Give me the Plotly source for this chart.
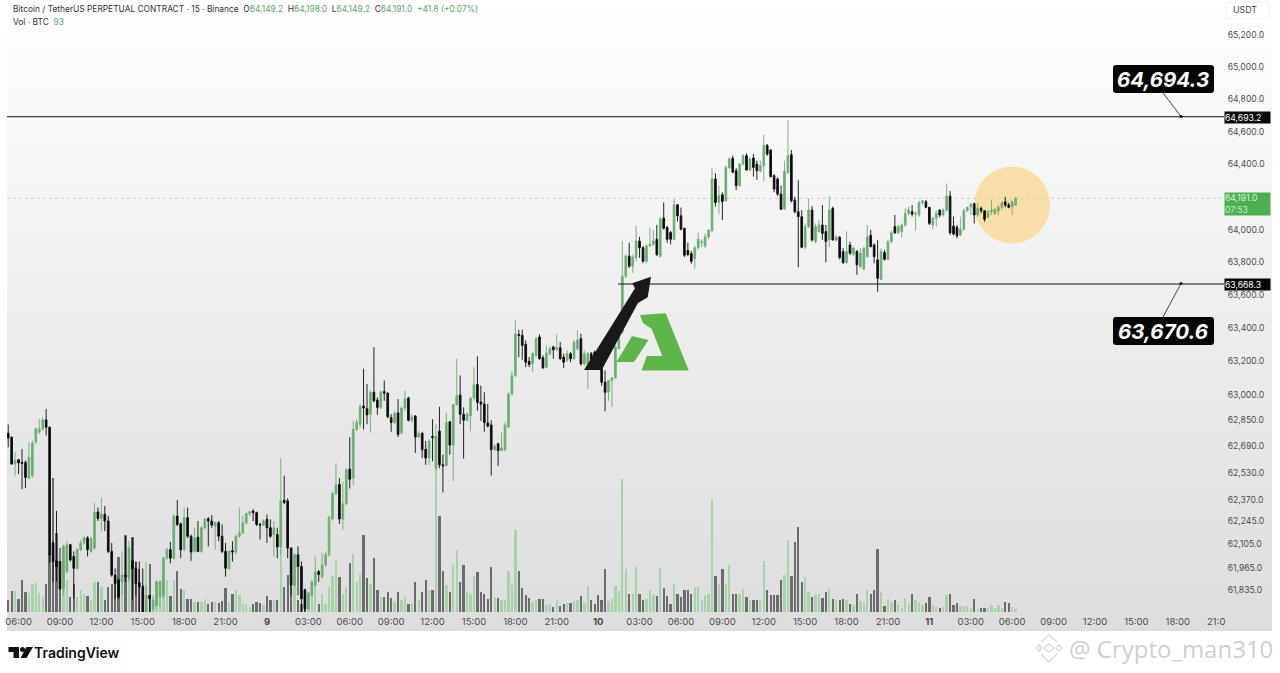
import math
import plotly.graph_objects as go

opens = [62768,62744,62584,62610,62594,62594,62500,62514,62714,62774,
62794,62848,62804,62114,62008,62004,61844,61944,62104,62034,
61964,62074,62114,62144,62064,62084,62298,62260,62284,62244,
62064,61924,61894,61884,61924,61904,62008,61964,61878,61854,
61704,61804,61724,61744,61794,61804,62024,62074,62024,62274,
62228,62074,62264,62154,62064,62148,62064,62204,62258,62244,
62214,62234,62154,62064,61964,62068,62060,62154,62174,62234,
62288,62304,62294,62224,62220,62254,62204,62164,62164,62090,
62368,62364,62084,61864,62044,61974,61834,61724,61804,61864,
61944,61913,61984,62044,62256,62408,62462,62256,62347,62553,
62499,62791,62822,62931,62915,62882,63014,62967,62923,63018,
63008,62862,62832,62890,62771,62919,62979,62846,62872,62745,
62769,62672,62620,62749,62559,62781,62579,62575,62836,62697,
62939,62998,62882,62846,62872,62979,63060,62955,62943,62830,
62818,62670,62705,62664,62670,62806,63004,63115,63363,63357,
63303,63200,63185,63236,63347,63222,63165,63246,63286,63270,
63282,63226,63206,63246,63216,63276,63337,63185,63165,63246,
63256,63206,63155,63074,63014,63084,63101,63276,63377,63715,
63838,63777,63828,63930,63889,63807,63900,63910,63941,63838,
64070,64012,63982,63941,64152,64084,64008,63873,63853,63824,
63889,63920,63900,63955,63992,64310,64166,64213,64176,64381,
64437,64361,64269,64402,64453,64365,64439,64402,64357,64392,
64515,64488,64330,64310,64217,64125,64351,64459,64180,64109,
64079,63892,64018,64119,63927,63988,64028,63988,63937,64130,
63937,63953,63866,63799,63906,63850,63866,63774,63758,63835,
63965,63906,63815,63697,63860,63819,63927,64018,63981,63988,
64028,64099,64109,64095,64089,64164,64170,64136,64028,64069,
64119,64089,64119,64205,64022,64014,63967,64002,64115,64140,
64160,64089,64130,64115,64075,64109,64099,64115,64136,64170,
64150,64140,64149.2]

closes = [62740,62584,62604,62590,62588,62504,62624,62708,62794,62794,
62848,62804,62044,62004,61974,61844,62094,62104,62014,61964,
62074,62114,62144,62074,62140,62294,62260,62284,62244,62064,
61924,61874,61794,61924,61914,62084,61960,61874,61854,61694,
61804,61784,61774,61884,61884,62024,62074,62024,62274,62224,
62074,62264,62154,62060,62144,62064,62204,62254,62244,62220,
62234,62154,62064,61964,62064,62060,62154,62174,62234,62288,
62300,62294,62224,62220,62244,62204,62154,62204,62090,62364,
62354,62084,61864,62044,61974,61784,61724,61814,61884,61944,
61928,61984,62044,62266,62408,62458,62256,62347,62549,62493,
62791,62832,62927,62919,62878,63014,62963,62923,63014,63008,
62866,62832,62886,62761,62919,62973,62846,62866,62745,62765,
62670,62620,62721,62741,62751,62579,62573,62832,62697,62939,
62993,62882,62846,62882,62979,63060,62953,62943,62832,62812,
62670,62690,62664,62680,62818,63004,63115,63367,63357,63296,
63195,63181,63246,63337,63216,63161,63250,63276,63270,63282,
63216,63195,63246,63216,63317,63327,63185,63246,63246,63185,
63185,63165,63074,63014,63084,63101,63286,63377,63715,63838,
63777,63832,63930,63889,63807,63900,63910,63930,63848,64064,
64008,63941,63941,64152,64084,64002,63844,63848,63807,63889,
63941,63926,63955,63996,64310,64166,64207,64172,64381,64433,
64351,64269,64402,64453,64365,64433,64381,64361,64392,64515,
64463,64324,64248,64217,64125,64357,64453,64176,64109,64079,
63892,64018,64119,63937,64018,64028,63977,63927,64119,63937,
63953,63829,63799,63866,63856,63886,63785,63856,63886,63957,
63896,63835,63703,63866,63819,63927,63981,63981,64018,64028,
64099,64119,64095,64099,64164,64176,64136,64038,64069,64099,
64089,64119,64205,63981,63973,63961,64002,64115,64136,64156,
64089,64130,64115,64063,64109,64119,64124,64136,64164,64150,
64136,64170,64191.0]

highs = [62820,62748,62654,62614,62674,62604,62714,62724,62804,62854,
62864,62914,62808,62124,62304,62084,62104,62124,62108,62064,
62084,62134,62154,62154,62148,62354,62324,62384,62334,62274,
62114,61964,61904,62064,62154,62124,62144,62004,62004,61964,
61864,61804,61804,61894,61894,62034,62084,62120,62284,62368,
62234,62324,62324,62164,62204,62244,62214,62264,62268,62280,
62244,62244,62224,62114,62074,62124,62164,62324,62274,62294,
62304,62314,62300,62234,62254,62284,62254,62244,62204,62620,
62514,62380,62088,62054,62094,62004,61844,61824,61894,62034,
61954,62054,62064,62276,62418,62589,62499,62478,62559,62745,
62842,62852,62943,63155,63064,63024,63286,62983,63024,63084,
63014,62882,62903,62973,62927,63024,62987,62882,62876,62781,
62771,62721,62731,62852,62822,62927,62640,62892,62842,62943,
63216,63115,62923,62892,62983,63165,63230,63054,63014,62943,
62846,62701,62711,62771,62832,63014,63141,63448,63391,63391,
63327,63226,63256,63347,63363,63236,63296,63290,63296,63363,
63317,63246,63266,63256,63327,63387,63367,63266,63256,63256,
63266,63226,63155,63145,63088,63105,63296,63387,63930,63848,
63920,63848,64023,63955,63900,63910,64012,63996,64029,64074,
64166,64023,63992,64187,64156,64135,64012,63920,63869,63900,
63982,63941,63976,64002,64381,64345,64269,64228,64392,64443,
64453,64377,64406,64463,64468,64443,64463,64422,64422,64582,
64525,64494,64340,64320,64269,64422,64673,64488,64201,64302,
64119,64038,64191,64144,64038,64059,64150,64028,64205,64140,
63967,63961,63886,63988,63927,63896,63876,63886,63896,64028,
63998,63916,63937,63886,63876,63937,63994,64089,64028,64038,
64130,64140,64150,64109,64176,64180,64180,64140,64079,64119,
64124,64130,64282,64237,64079,64028,64079,64130,64140,64160,
64164,64160,64140,64119,64119,64180,64130,64150,64170,64201,
64164,64180,64198.0]

lows = [62684,62580,62514,62524,62434,62440,62492,62504,62704,62764,
62784,62754,61994,61884,61884,61834,61804,61934,62004,61784,
61954,62064,62104,62034,62054,62074,62244,62184,62184,62054,
61914,61784,61784,61804,61884,61884,61774,61804,61704,61694,
61694,61694,61704,61734,61734,61784,62014,61994,62014,62214,
62024,62064,62144,62008,62054,62060,62054,62194,62094,62204,
62074,62124,62054,61914,61954,62004,62044,62144,62164,62224,
62274,62244,62214,62134,62214,62114,62144,62034,62024,62044,
62344,62024,61804,61854,61804,61704,61704,61714,61794,61854,
61884,61903,61973,62034,62246,62398,62226,62192,62337,62438,
62458,62781,62802,62791,62822,62771,62953,62878,62913,62963,
62858,62777,62822,62745,62761,62903,62838,62832,62650,62741,
62620,62579,62579,62600,62549,62559,62414,62569,62640,62482,
62933,62822,62616,62838,62781,62963,62903,62842,62777,62802,
62515,62660,62573,62660,62660,62798,62993,63105,63226,63210,
63165,63165,63135,63226,63210,63155,63161,63236,63216,63262,
63210,63161,63195,63195,63210,63266,63175,63175,63034,63175,
63175,63155,63054,62899,62963,62927,63094,63276,63367,63705,
63766,63736,63807,63828,63797,63797,63894,63900,63838,63828,
64000,63920,63910,63935,64049,63996,63832,63838,63791,63762,
63879,63894,63889,63941,63988,64140,64094,64058,64172,64371,
64345,64242,64263,64392,64361,64357,64324,64304,64351,64295,
64453,64320,64228,64207,64119,64123,64340,64166,64099,63770,
63886,63880,64008,63927,63916,63981,63937,63801,63892,63933,
63927,63819,63791,63791,63845,63839,63724,63764,63754,63831,
63892,63795,63622,63693,63811,63815,63916,63973,63973,63953,
64018,64089,64079,63994,64079,64150,64130,64028,64002,64018,
64075,64079,64109,63967,63965,63947,63961,63994,64109,64089,
64038,64079,64099,64048,64069,64089,64089,64089,64119,64136,
64130,64089,64149.2]

volumes = [350,630,630,400,950,600,570,830,870,570,
450,830,1750,4010,2370,1100,1450,950,450,850,
450,650,550,470,350,900,900,750,370,750,
850,1050,1650,1050,2300,1950,2250,1500,1300,800,
1500,1430,450,900,900,1050,970,470,970,1220,
690,650,400,400,300,300,300,400,250,300,
300,270,330,710,300,550,650,500,230,200,
150,230,300,270,200,470,350,350,350,1900,
750,1100,1650,950,350,250,700,600,450,750,
250,530,250,750,1070,1530,1050,530,750,1470,
1730,900,1130,2320,1030,830,1620,650,450,450,
600,430,300,600,370,450,230,270,900,370,
600,950,650,670,4450,2880,1230,800,600,1400,
1850,900,1400,600,550,1070,1200,600,550,400,
1350,450,430,350,350,1230,800,2450,1230,730,
500,430,300,370,400,400,200,230,150,370,
170,230,270,270,330,370,470,270,770,350,
250,500,350,1300,330,400,770,630,4000,1300,
550,530,1350,550,350,400,650,500,470,1320,
720,470,250,830,530,450,650,670,550,750,
750,350,500,530,3380,1070,830,1300,830,1400,
530,550,550,680,450,370,350,350,370,1520,
650,500,500,500,950,1100,2170,1070,2100,2550,
900,1050,600,450,500,530,430,590,700,400,
370,370,390,370,250,200,550,330,270,670,
530,650,1900,600,170,400,300,350,200,130,
430,250,550,350,300,200,270,450,200,150,
130,150,520,550,200,270,170,170,170,130,
380,100,130,130,130,200,130,200,130,300,
270,150,93]

time_tick_index = list(range(3, 352, 12))
time_tick_labels = ["06:00","09:00","12:00","15:00","18:00","21:00","<b>9</b>",
                    "03:00","06:00","09:00","12:00","15:00","18:00","21:00","<b>10</b>",
                    "03:00","06:00","09:00","12:00","15:00","18:00","21:00","<b>11</b>",
                    "03:00","06:00","09:00","12:00","15:00","18:00","21:00"]
price_ticks = [65200,65000,64800,64600,64400,64000,63800,63600,63400,63200,63000,
               62850,62690,62530,62370,62245,62105,61965,61835]
resistance = 64693.2
support = 63668.3
last_price = 64191.0

W, H = 1280, 673
def px(x): return x / W
def py(y): return 1 - y / H
def poly(points):
    return "M " + " L ".join(f"{px(x):.5f},{py(y):.5f}" for x, y in points) + " Z"
def round_rect(x0, y0, x1, y1, r):
    return (f"M {px(x0+r):.5f},{py(y0):.5f} L {px(x1-r):.5f},{py(y0):.5f} "
            f"Q {px(x1):.5f},{py(y0):.5f} {px(x1):.5f},{py(y0+r):.5f} "
            f"L {px(x1):.5f},{py(y1-r):.5f} Q {px(x1):.5f},{py(y1):.5f} {px(x1-r):.5f},{py(y1):.5f} "
            f"L {px(x0+r):.5f},{py(y1):.5f} Q {px(x0):.5f},{py(y1):.5f} {px(x0):.5f},{py(y1-r):.5f} "
            f"L {px(x0):.5f},{py(y0+r):.5f} Q {px(x0):.5f},{py(y0):.5f} {px(x0+r):.5f},{py(y0):.5f} Z")

UP = "#6bad74"
DOWN = "#0b0b0b"
VOL_UP = "#a8d3aa"
VOL_DOWN = "#6c6c6c"
indices = list(range(len(closes)))
vol_colors = [VOL_UP if c >= o else VOL_DOWN for o, c in zip(opens, closes)]

fig = go.Figure()
fig.add_trace(go.Bar(x=indices, y=volumes, marker=dict(color=vol_colors, line_width=0),
                     width=0.66, yaxis="y", xaxis="x", hoverinfo="skip"))
fig.add_trace(go.Candlestick(x=indices, open=opens, high=highs, low=lows, close=closes,
                             yaxis="y2", xaxis="x", whiskerwidth=0,
                             increasing=dict(line=dict(color=UP, width=0.9), fillcolor=UP),
                             decreasing=dict(line=dict(color=DOWN, width=0.9), fillcolor=DOWN)))

shapes = []
# pane gradient
bands = 63
for b in range(bands):
    t = b / (bands - 1)
    v = round(255 - t * 34)
    shapes.append(dict(type="rect", xref="paper", yref="paper", layer="below",
                       x0=px(7), x1=px(1272), y0=py(b * 10), y1=py(b * 10 + 11),
                       line_width=0, fillcolor=f"rgb({v},{v},{v})"))
# highlight circle
shapes.append(dict(type="circle", xref="paper", yref="paper", layer="below",
                   x0=px(974), x1=px(1050), y0=py(243.5), y1=py(166.5),
                   line_width=0, fillcolor="#f8dfa8"))
# logo
shapes.append(dict(type="path", xref="paper", yref="paper", layer="below", line_width=0, fillcolor="#5db647",
                   path=poly([(640,315),(665.7,313.3),(688.8,370.5),(641.7,370.5),(646.7,356),(662.3,356),(651.7,329),(643,323)])))
shapes.append(dict(type="path", xref="paper", yref="paper", layer="below", line_width=0, fillcolor="#5db647",
                   path=poly([(632,336),(648.5,340),(634,362),(616.5,362)])))
# levels
shapes.append(dict(type="line", xref="paper", yref="y2", x0=px(7), x1=px(1224), y0=last_price, y1=last_price,
                   layer="below", line=dict(color="#b9d9ba", width=1, dash="dot")))
shapes.append(dict(type="line", xref="paper", yref="y2", x0=px(7), x1=px(1224), y0=resistance, y1=resistance,
                   line=dict(color="#111111", width=1)))
shapes.append(dict(type="line", xref="paper", yref="y2", x0=px(618), x1=px(1224), y0=support, y1=support,
                   line=dict(color="#111111", width=1)))
# arrow
shapes.append(dict(type="path", xref="paper", yref="paper", line_width=0, fillcolor="#1a1818",
                   path=poly([(584,370),(601.7,370),(638,303),(647.7,297.3),(651,276.7),(632.3,283.3),(635,288.3)])))
# callouts
for box, a, b_ in [((1113,65,1214,93),(1163,93),(1181,116.5)), ((1113,317,1214,345),(1163,317),(1181,283.5))]:
    shapes.append(dict(type="path", xref="paper", yref="paper", line_width=0, fillcolor="#050505",
                       path=round_rect(*box, 3)))
    shapes.append(dict(type="line", xref="paper", yref="paper", x0=px(a[0]), y0=py(a[1]), x1=px(b_[0]), y1=py(b_[1]),
                       line=dict(color="#444444", width=1)))
    shapes.append(dict(type="circle", xref="paper", yref="paper", x0=px(b_[0]-1.5), x1=px(b_[0]+1.5),
                       y0=py(b_[1]+1.5), y1=py(b_[1]-1.5), line_width=0, fillcolor="#000000"))
# price axis badges
shapes.append(dict(type="rect", xref="paper", yref="paper", x0=px(1226), x1=px(1269), y0=py(2), y1=py(19),
                   line=dict(color="#f0f0f0", width=1), fillcolor="#ffffff"))
# TradingView mark
shapes.append(dict(type="path", xref="paper", yref="paper", line_width=0, fillcolor="#111111",
                   path=poly([(8.5,647),(19,647),(19,658),(13.5,658),(13.5,652),(8.5,652)])))
shapes.append(dict(type="circle", xref="paper", yref="paper", line_width=0, fillcolor="#111111",
                   x0=px(20), x1=px(25), y0=py(652), y1=py(647)))
shapes.append(dict(type="path", xref="paper", yref="paper", line_width=0, fillcolor="#111111",
                   path=poly([(26.5,647),(33,647),(26.5,658),(20.5,658)])))
# Binance-style mark of the watermark
for pts in [[(1041,642),(1049,635),(1057,642)],
            [(1044,648),(1049,644),(1054,648),(1049,652),(1044,648)],
            [(1036,648),(1039,645),(1042,648),(1039,651),(1036,648)],
            [(1056,648),(1059,645),(1062,648),(1059,651),(1056,648)],
            [(1041,654),(1049,662),(1057,654)]]:
    shapes.append(dict(type="path", xref="paper", yref="paper", fillcolor="rgba(0,0,0,0)",
                       line=dict(color="#d9d9d9", width=1.5),
                       path="M " + " L ".join(f"{px(x):.5f},{py(y):.5f}" for x, y in pts)))

G = "#58a862"
hdr = ("Bitcoin / TetherUS PERPETUAL CONTRACT · 15 · Binance  "
       f"O<span style='color:{G}'>64,149.2</span>  H<span style='color:{G}'>64,198.0</span>  "
       f"L<span style='color:{G}'>64,149.2</span>  C<span style='color:{G}'>64,191.0</span>  "
       f"<span style='color:{G}'>+41.8 (+0.07%)</span>")

def note(x, y, text, size, color="#333333", anchor="left", family="Inter", **kw):
    return dict(xref="paper", yref="paper", x=px(x), y=py(y), text=text, showarrow=False,
                xanchor=anchor, yanchor="middle", align=anchor,
                font=dict(family=family, size=size, color=color), **kw)

annotations = [
    note(11, 9.5, hdr, 8.4),
    note(11, 21.5, f"Vol · BTC  <span style='color:{G}'>93</span>", 8.4),
    note(1231, 10, "USDT", 8.8, color="#444444"),
    note(1163.5, 79, "<b><i>64,694.3</i></b>", 20.5, color="#ffffff", anchor="center"),
    note(1163.5, 331, "<b><i>63,670.6</i></b>", 20.5, color="#ffffff", anchor="center"),
    note(1224, 117.5, "64,693.2", 8.6, color="#ffffff", bgcolor="#050505", borderpad=0, width=45, height=11),
    note(1224, 284.5, "63,668.3", 8.6, color="#ffffff", bgcolor="#050505", borderpad=0, width=45, height=11),
    note(1224, 203.5, "64,191.0<br><span style='color:#c8efc8'>07:53</span>", 8.6, color="#d8f5d8",
         bgcolor="#4caf50", borderpad=0, width=45, height=22),
    note(1224.5, 621, " ", 9, bgcolor="rgb(222,222,222)", borderpad=0, width=14, height=13),
    dict(xref="paper", yref="paper", x=px(32), y=py(652), text="TradingView", showarrow=False, xanchor="left",
         yanchor="middle", font=dict(family="Inter", size=14, color="#111111", weight=600)),
    note(1067, 648.5, "@ Crypto_man310", 24, color="#cfcfcf", family="Open Sans"),
]

fig.update_layout(
    width=W, height=H, autosize=False, showlegend=False,
    margin=dict(l=0, r=0, t=0, b=0, pad=0, autoexpand=False),
    paper_bgcolor="#ffffff", plot_bgcolor="rgba(0,0,0,0)",
    font=dict(family="Inter", size=9.5, color="#4d4d4d"),
    bargap=0, shapes=shapes, annotations=annotations,
    xaxis=dict(domain=[px(7), px(1224)], range=[-0.35, 352.4], showgrid=False, zeroline=False,
               showline=False, rangeslider=dict(visible=False), tickmode="array",
               tickvals=time_tick_index, ticktext=time_tick_labels, ticks="outside", ticklen=1,
               tickcolor="rgba(0,0,0,0)", tickangle=0, tickfont=dict(family="Inter", size=9.5, color="#4d4d4d"),
               anchor="y", automargin=False),
    yaxis=dict(domain=[py(612), 1], range=[0, 612 * 30], visible=False, fixedrange=True),
    yaxis2=dict(domain=[py(612), 1], overlaying="y", side="right", anchor="x", type="log",
                range=[math.log10(61706), math.log10(65418)], showgrid=False, zeroline=False, showline=False,
                tickmode="array", tickvals=price_ticks, ticktext=[f"{v:,.1f}" for v in price_ticks],
                ticks="outside", ticklen=1, tickcolor="rgba(0,0,0,0)", automargin=False,
                tickfont=dict(family="Inter", size=8.6, color="#4d4d4d")),
)
fig.write_html("out.html", config=dict(displayModeBar=False),
               post_script="document.body.style.margin='0';document.body.style.overflow='hidden';")
